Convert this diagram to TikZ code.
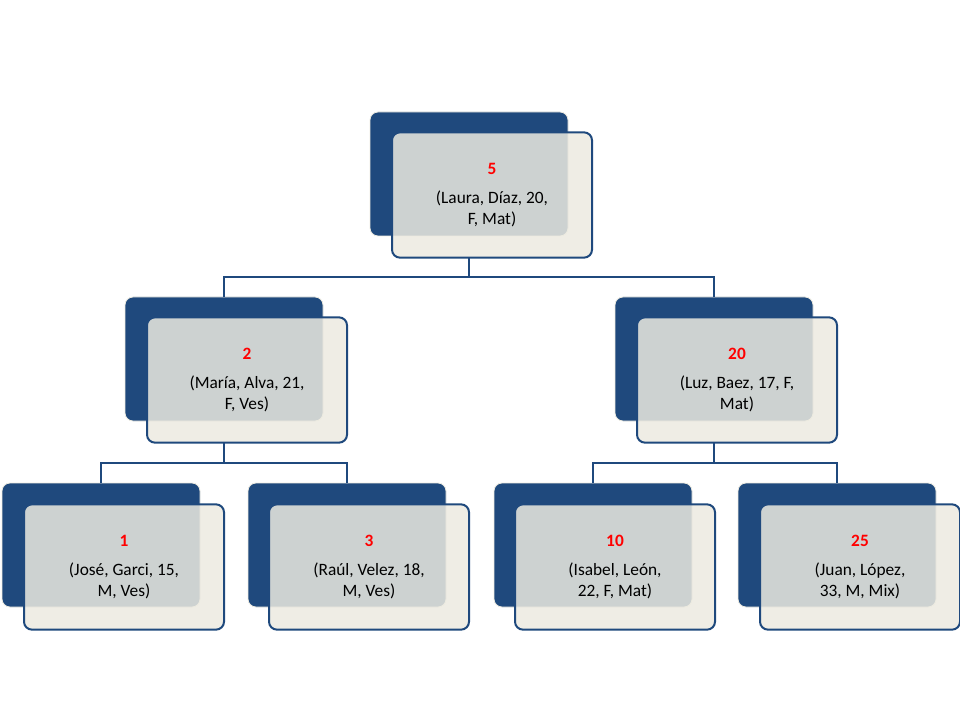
\documentclass[tikz,border=0pt]{standalone}
\usepackage{fontspec}
\setmainfont{Carlito}
\usetikzlibrary{positioning}
\definecolor{boxblue}{RGB}{31,73,125}
\definecolor{boxcream}{RGB}{236,234,224}
\definecolor{boxedge}{RGB}{238,236,225}
\begin{document}
\begin{tikzpicture}[x=0.75pt, y=-0.75pt, semithick,
                    back/.style  = {rectangle, rounded corners = 6pt,
                                    fill = boxblue,
                                    draw = boxedge,
                                    minimum width = 148.5pt,
                                    minimum height = 93pt},
                    front/.style = {rectangle, rounded corners = 6pt,
                                    fill = boxcream, fill opacity = 0.85,
                                    text opacity = 1,
                                    draw = boxblue, line width = 1.5pt,
                                    minimum width = 150pt,
                                    minimum height = 94pt,
                                    align = center,
                                    font = \fontsize{13}{16}\selectfont},
                    link/.style  = {draw = boxblue, line width = 1.5pt}]
\useasboundingbox (0,0) rectangle (960,720);
\newcommand{\key}[1]{{\color{red}\bfseries #1}\\[6pt]}

\node[back]  (Bk5)  at (469,174) {};
\node[front] (N5)   at (492,195) {\key{5}(Laura, Díaz, 20,\\F, Mat)};

\node[back]  (Bk2)  at (224,359) {};
\node[front] (N2)   at (247,380) {\key{2}(María, Alva, 21,\\F, Ves)};
\node[back]  (Bk20) at (714,359) {};
\node[front] (N20)  at (737,380) {\key{20}(Luz, Baez, 17, F,\\Mat)};

\node[back]  (Bk1)  at (101,545) {};
\node[front] (N1)   at (124,567) {\key{1}(José, Garci, 15,\\M, Ves)};
\node[back]  (Bk3)  at (347,545) {};
\node[front] (N3)   at (369,567) {\key{3}(Raúl, Velez, 18,\\M, Ves)};
\node[back]  (Bk10) at (593,545) {};
\node[front] (N10)  at (615,567) {\key{10}(Isabel, León,\\22, F, Mat)};
\node[back]  (Bk25) at (837,545) {};
\node[front] (N25)  at (860,567) {\key{25}(Juan, López,\\33, M, Mix)};

% connectors
\path[link] (Bk5.south) ++(0,21) coordinate (J5) -- ++(0,20) coordinate (M5);
\draw[link] (J5) -- (M5) -| (Bk2.north);
\draw[link] (M5) -| (Bk20.north);
\draw[link] (Bk2.south) ++(0,22) coordinate (J2) -- ++(0,20) coordinate (M2) -| (Bk1.north);
\draw[link] (M2) -| (Bk3.north);
\draw[link] (Bk20.south) ++(0,22) coordinate (J20) -- ++(0,20) coordinate (M20) -| (Bk10.north);
\draw[link] (M20) -| (Bk25.north);
\end{tikzpicture}
\end{document}
